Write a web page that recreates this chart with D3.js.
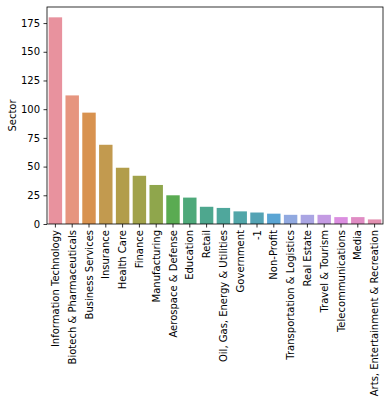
<!DOCTYPE html>
<html>
<head>
<meta charset="utf-8">
<script src="https://cdn.jsdelivr.net/npm/d3@7"></script>
<style>
  body { margin: 0; background: #fff; }
  svg text { font-family: "DejaVu Sans", sans-serif; }
</style>
</head>
<body>
<div id="chart"></div>
<script>
const sectors = [
  "Information Technology", "Biotech & Pharmaceuticals", "Business Services",
  "Insurance", "Health Care", "Finance", "Manufacturing", "Aerospace & Defense",
  "Education", "Retail", "Oil, Gas, Energy & Utilities", "Government", "-1",
  "Non-Profit", "Transportation & Logistics", "Real Estate", "Travel & Tourism",
  "Telecommunications", "Media", "Arts, Entertainment & Recreation"
];
const counts = [180, 112, 97, 69, 49, 42, 34, 25, 23, 15, 14, 11, 10, 9, 8, 8, 8, 6, 6, 4];
const barColors = [
  "#e8929e", "#e6957f", "#d8924f", "#c29a4f", "#b29d4a", "#a1a24b", "#8fa64c",
  "#5aab52", "#4ea97a", "#4ea78e", "#4fa79c", "#51a6a8", "#54a3b4", "#5aa5d4",
  "#91a9e0", "#aaa5e3", "#c49be3", "#db8ee0", "#e08cc4", "#e290b0"
];
const yTicks = [0, 25, 50, 75, 100, 125, 150, 175];

const W = 389, H = 404;
const margin = { top: 7, right: 6, bottom: 180, left: 47 };
const width = W - margin.left - margin.right;
const height = H - margin.top - margin.bottom;

const svg = d3.select("#chart").append("svg")
  .attr("width", W).attr("height", H);
const g = svg.append("g")
  .attr("transform", `translate(${margin.left},${margin.top})`);

const x = d3.scaleBand().domain(sectors).range([0, width]).paddingInner(0.2).paddingOuter(0.1);
const y = d3.scaleLinear().domain([0, 189]).range([height, 0]);

// bars
g.selectAll("rect.bar")
  .data(sectors)
  .enter()
  .append("rect")
  .attr("class", "bar")
  .attr("x", (d) => x(d))
  .attr("y", (d, i) => y(counts[i]))
  .attr("width", x.bandwidth())
  .attr("height", (d, i) => height - y(counts[i]))
  .attr("fill", (d, i) => barColors[i]);

// axes
const xAxis = g.append("g")
  .attr("transform", `translate(0,${height})`)
  .call(d3.axisBottom(x).tickSize(3.5).tickPadding(3.5).tickSizeOuter(0));
xAxis.selectAll("text")
  .attr("transform", "rotate(-90)")
  .attr("text-anchor", "end")
  .attr("x", -6)
  .attr("y", 0)
  .attr("dy", "0.35em")
  .attr("font-size", 10)
  .attr("fill", "#000")
  .style("font-family", "'DejaVu Sans', sans-serif");

const yAxis = g.append("g")
  .call(d3.axisLeft(y).tickValues(yTicks).tickSize(3.5).tickPadding(3.5).tickSizeOuter(0));
yAxis.selectAll("text")
  .attr("font-size", 10)
  .attr("fill", "#000")
  .style("font-family", "'DejaVu Sans', sans-serif");

[xAxis, yAxis].forEach((a) => {
  a.select(".domain").remove();
  a.selectAll(".tick line").attr("stroke", "#000").attr("stroke-width", 0.8);
});

// frame
g.append("rect")
  .attr("width", width).attr("height", height)
  .attr("fill", "none").attr("stroke", "#000").attr("stroke-width", 0.8);

// y label
svg.append("text")
  .attr("transform", `translate(15.5,${margin.top + height / 2}) rotate(-90)`)
  .attr("text-anchor", "middle")
  .attr("font-size", 10)
  .text("Sector");
</script>
</body>
</html>
